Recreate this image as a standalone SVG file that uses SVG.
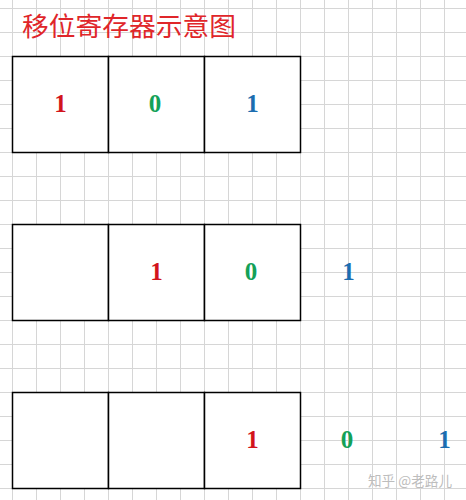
<svg xmlns="http://www.w3.org/2000/svg" width="466" height="500" viewBox="0 0 466 500">
<style>
.grid{stroke:#d6d6d6;stroke-width:1;fill:none}
.cell{fill:#ffffff;stroke:#000000;stroke-width:1.5}
.d{font-family:"Liberation Serif","DejaVu Serif",serif;font-weight:bold;font-size:25px;text-anchor:middle}
.r{fill:#d2141c}
.g{fill:#14a158}
.b{fill:#1c6db0}
.title{font-family:"Noto Sans CJK SC","Noto Sans",sans-serif;font-size:26.5px;fill:#e0262a}
.wm{font-family:"Noto Sans CJK SC","Noto Sans",sans-serif;font-size:14px;fill:#bdbdbd}
</style>
<rect x="0" y="0" width="466" height="500" fill="#ffffff"/>
<g id="grid">
<path class="grid" d="M12.5 0V500M36.5 0V500M60.5 0V500M84.5 0V500M108.5 0V500M132.5 0V500M156.5 0V500M180.5 0V500M204.5 0V500M228.5 0V500M252.5 0V500M276.5 0V500M300.5 0V500M324.5 0V500M348.5 0V500M372.5 0V500M396.5 0V500M420.5 0V500M444.5 0V500"/>
<path class="grid" d="M0 8.5H466M0 32.5H466M0 56.5H466M0 80.5H466M0 104.5H466M0 128.5H466M0 152.5H466M0 176.5H466M0 200.5H466M0 224.5H466M0 248.5H466M0 272.5H466M0 296.5H466M0 320.5H466M0 344.5H466M0 368.5H466M0 392.5H466M0 416.5H466M0 440.5H466M0 464.5H466M0 488.5H466"/>
</g>
<text id="title" class="title" x="22" y="35.5" textLength="214" lengthAdjust="spacingAndGlyphs">移位寄存器示意图</text>
<g id="row1">
<g id="r1c1"><rect class="cell" x="12.5" y="56.5" width="96" height="96"/><text class="d r" x="60.5" y="111.5">1</text></g>
<g id="r1c2"><rect class="cell" x="108.5" y="56.5" width="96" height="96"/><text class="d g" x="155" y="111.5">0</text></g>
<g id="r1c3"><rect class="cell" x="204.5" y="56.5" width="96" height="96"/><text class="d b" x="252.5" y="111.5">1</text></g>
</g>
<g id="row2">
<g id="r2c1"><rect class="cell" x="12.5" y="224.5" width="96" height="96"/></g>
<g id="r2c2"><rect class="cell" x="108.5" y="224.5" width="96" height="96"/><text class="d r" x="156.5" y="279.5">1</text></g>
<g id="r2c3"><rect class="cell" x="204.5" y="224.5" width="96" height="96"/><text class="d g" x="251" y="279.5">0</text></g>
<g id="r2out"><text class="d b" x="348.5" y="279.5">1</text></g>
</g>
<g id="row3">
<g id="r3c1"><rect class="cell" x="12.5" y="392.5" width="96" height="96"/></g>
<g id="r3c2"><rect class="cell" x="108.5" y="392.5" width="96" height="96"/></g>
<g id="r3c3"><rect class="cell" x="204.5" y="392.5" width="96" height="96"/><text class="d r" x="252.5" y="447.5">1</text></g>
<g id="r3out1"><text class="d g" x="347" y="447.5">0</text></g>
<g id="r3out2"><text class="d b" x="444.5" y="447.5">1</text></g>
</g>
<g id="connectors"></g>
<text id="watermark" class="wm" x="368" y="486" textLength="84" lengthAdjust="spacingAndGlyphs">知乎 @老路儿</text>
</svg>
